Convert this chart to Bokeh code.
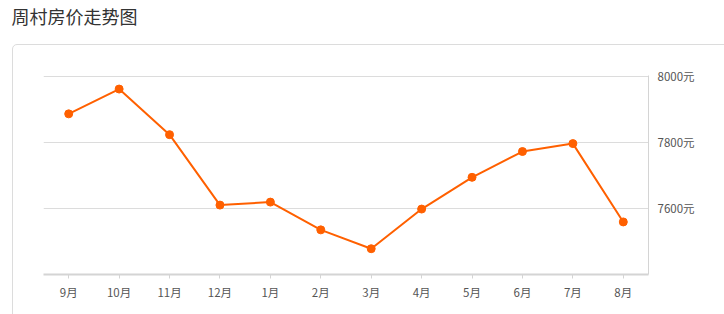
from bokeh.plotting import figure
from bokeh.models import (LinearAxis, FixedTicker, PrintfTickFormatter, Range1d,
                          InlineStyleSheet, Title)
from bokeh.embed import file_html
from bokeh.resources import INLINE

months = ["9月", "10月", "11月", "12月", "1月", "2月", "3月", "4月", "5月", "6月", "7月", "8月"]
prices = [7886, 7961, 7823, 7610, 7619, 7535, 7478, 7598, 7694, 7772, 7796, 7559]
y_ticks = [7600, 7800, 8000]
title_text = "周村房价走势图"

FONT = "Noto Sans CJK SC"
LINE = "#ff6000"

css = InlineStyleSheet(css="""
:host::after {
  content: "";
  position: absolute;
  left: 12px; top: 44px; width: 800px; height: 400px;
  border: 1px solid #dcdcdc; border-radius: 5px;
  box-sizing: border-box; pointer-events: none;
}
""")

p = figure(width=724, height=314, x_range=months, y_range=Range1d(7400, 8002),
           output_backend="svg", toolbar_location=None, y_axis_location=None,
           min_border_left=43, min_border_right=76, min_border_top=74,
           min_border_bottom=40, stylesheets=[css])
p.outline_line_color = None
p.background_fill_color = "white"
p.border_fill_color = "white"

p.title.text = title_text
p.title.text_font = FONT
p.title.text_font_size = "18px"
p.title.text_font_style = "normal"
p.title.text_color = "#333333"
p.title.offset = -32
p.title.standoff = 0

spacer = Title(text=" ", text_font_size="1px", standoff=44)
p.add_layout(spacer, "above")

# x axis
xa = p.xaxis[0]
xa.axis_line_color = "#d4d4d4"
xa.axis_line_width = 2
xa.major_tick_line_color = "#d4d4d4"
xa.major_tick_in = 0
xa.major_tick_out = 4
xa.minor_tick_line_color = None
xa.major_label_text_font = FONT
xa.major_label_text_font_size = "11.5px"
xa.major_label_text_color = "#555555"
xa.major_label_standoff = 5
p.xgrid.grid_line_color = None

# right y axis
ya = LinearAxis(ticker=FixedTicker(ticks=y_ticks),
                formatter=PrintfTickFormatter(format="%d元"))
ya.axis_line_color = "#d4d4d4"
ya.major_tick_line_color = None
ya.minor_tick_line_color = None
ya.major_label_text_font = FONT
ya.major_label_text_font_size = "11.5px"
ya.major_label_text_color = "#555555"
ya.major_label_standoff = 3
p.add_layout(ya, "right")
p.ygrid.ticker = FixedTicker(ticks=y_ticks)
p.ygrid.grid_line_color = "#dcdcdc"

p.line(months, prices, line_color=LINE, line_width=2)
p.scatter(months, prices, size=8, fill_color=LINE, line_color=LINE)

open("out.html", "w").write(file_html(p, INLINE))
